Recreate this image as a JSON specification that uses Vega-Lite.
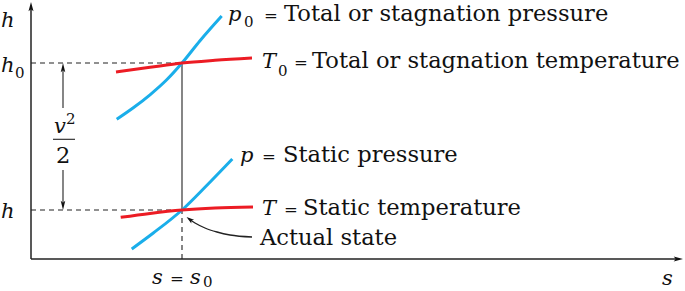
{
  "$schema": "https://vega.github.io/schema/vega-lite/v6.json",
  "width": 685,
  "height": 291,
  "padding": 0,
  "autosize": {"type": "none"},
  "background": "white",
  "config": {"view": {"stroke": null}, "text": {"font": "DejaVu Serif", "color": "#111", "align": "left", "baseline": "alphabetic"}},
  "datasets": {
    "rules": [
      {"s": 0, "h": 0, "s2": 0, "h2": 250, "kind": "axis"},
      {"s": 0, "h": 0, "s2": 646, "h2": 0, "kind": "axis"},
      {"s": 0, "h": 196, "s2": 151, "h2": 196, "kind": "dash"},
      {"s": 0, "h": 49, "s2": 151, "h2": 49, "kind": "dash"},
      {"s": 151, "h": 0, "s2": 151, "h2": 49, "kind": "dash"},
      {"s": 151, "h": 49, "s2": 151, "h2": 196, "kind": "thin"},
      {"s": 32, "h": 151, "s2": 32, "h2": 190, "kind": "thin"},
      {"s": 32, "h": 89, "s2": 32, "h2": 55, "kind": "thin"},
      {"s": 22, "h": 119.7, "s2": 44, "h2": 119.7, "kind": "thin"}
    ],
    "curves": [
      {"curve": "p0", "i": 1, "s": 85.7, "h": 139.7},
      {"curve": "p0", "i": 2, "s": 102.3, "h": 151.2},
      {"curve": "p0", "i": 3, "s": 119, "h": 164.2},
      {"curve": "p0", "i": 4, "s": 135.7, "h": 179.2},
      {"curve": "p0", "i": 5, "s": 151, "h": 196},
      {"curve": "p0", "i": 6, "s": 169, "h": 218.3},
      {"curve": "p0", "i": 7, "s": 190.7, "h": 243},
      {"curve": "p", "i": 1, "s": 100.7, "h": 10},
      {"curve": "p", "i": 2, "s": 122.3, "h": 26},
      {"curve": "p", "i": 3, "s": 151, "h": 49},
      {"curve": "p", "i": 4, "s": 175.7, "h": 73.5},
      {"curve": "p", "i": 5, "s": 201.3, "h": 100},
      {"curve": "T0", "i": 1, "s": 85, "h": 187},
      {"curve": "T0", "i": 2, "s": 119, "h": 191.7},
      {"curve": "T0", "i": 3, "s": 151, "h": 196},
      {"curve": "T0", "i": 4, "s": 184, "h": 198.7},
      {"curve": "T0", "i": 5, "s": 221, "h": 201},
      {"curve": "T", "i": 1, "s": 89.7, "h": 41.7},
      {"curve": "T", "i": 2, "s": 119, "h": 45.6},
      {"curve": "T", "i": 3, "s": 151, "h": 49},
      {"curve": "T", "i": 4, "s": 184, "h": 51},
      {"curve": "T", "i": 5, "s": 222, "h": 52},
      {"curve": "pointer", "i": 1, "s": 158, "h": 40},
      {"curve": "pointer", "i": 2, "s": 164, "h": 36},
      {"curve": "pointer", "i": 3, "s": 174, "h": 31},
      {"curve": "pointer", "i": 4, "s": 186, "h": 27},
      {"curve": "pointer", "i": 5, "s": 199, "h": 24},
      {"curve": "pointer", "i": 6, "s": 221, "h": 22}
    ],
    "arrows": [
      {"dir": "up", "s": 0, "h": 251, "kind": "big"},
      {"dir": "right", "s": 646, "h": 0, "kind": "big"},
      {"dir": "up", "s": 32, "h": 190, "kind": "mid"},
      {"dir": "down", "s": 32, "h": 55, "kind": "mid"},
      {"dir": "upleft", "s": 159.5, "h": 39, "kind": "small"}
    ],
    "labels": [
      {"style": "italic", "text": "h", "s": -30, "h": 232},
      {"style": "italic", "text": "h", "s": -30, "h": 187},
      {"style": "sub", "text": "0", "s": -16, "h": 181},
      {"style": "italic", "text": "h", "s": -30, "h": 41},
      {"style": "italic", "text": "v", "s": 23, "h": 126},
      {"style": "sup", "text": "2", "s": 35, "h": 135},
      {"style": "roman", "text": "2", "s": 25, "h": 96},
      {"style": "italic", "text": "s", "s": 121, "h": -25},
      {"style": "eq", "text": "=", "s": 139, "h": -25},
      {"style": "italic", "text": "s", "s": 159, "h": -25},
      {"style": "sub", "text": "0", "s": 172, "h": -28},
      {"style": "italic", "text": "s", "s": 631, "h": -26},
      {"style": "italic", "text": "p", "s": 197, "h": 238},
      {"style": "sub", "text": "0", "s": 213, "h": 232},
      {"style": "eq", "text": "=", "s": 233, "h": 238},
      {"style": "roman", "text": "Total or stagnation pressure", "s": 253, "h": 238},
      {"style": "italic", "text": "T", "s": 231, "h": 191},
      {"style": "sub", "text": "0", "s": 247, "h": 183},
      {"style": "eq", "text": "=", "s": 263, "h": 191},
      {"style": "roman", "text": "Total or stagnation temperature", "s": 281, "h": 191},
      {"style": "italic", "text": "p", "s": 209, "h": 97},
      {"style": "eq", "text": "=", "s": 231, "h": 97},
      {"style": "roman", "text": "Static pressure", "s": 252, "h": 97},
      {"style": "italic", "text": "T", "s": 231, "h": 44},
      {"style": "eq", "text": "=", "s": 253, "h": 44},
      {"style": "roman", "text": "Static temperature", "s": 272, "h": 44},
      {"style": "roman", "text": "Actual state", "s": 229, "h": 14}
    ]
  },
  "encoding": {
    "x": {"field": "s", "type": "quantitative", "scale": {"domain": [-31, 654], "nice": false, "zero": false}, "axis": null},
    "y": {"field": "h", "type": "quantitative", "scale": {"domain": [-32, 259], "nice": false, "zero": false}, "axis": null}
  },
  "layer": [
    {
      "data": {"name": "rules"},
      "transform": [{"filter": "datum.kind === 'axis'"}],
      "mark": {"type": "rule", "color": "#222", "strokeWidth": 1.5},
      "encoding": {"x2": {"field": "s2"}, "y2": {"field": "h2"}}
    },
    {
      "data": {"name": "rules"},
      "transform": [{"filter": "datum.kind === 'dash'"}],
      "mark": {"type": "rule", "color": "#222", "strokeWidth": 1.1, "strokeDash": [5, 4]},
      "encoding": {"x2": {"field": "s2"}, "y2": {"field": "h2"}}
    },
    {
      "data": {"name": "rules"},
      "transform": [{"filter": "datum.kind === 'thin'"}],
      "mark": {"type": "rule", "color": "#222", "strokeWidth": 1.1},
      "encoding": {"x2": {"field": "s2"}, "y2": {"field": "h2"}}
    },
    {
      "data": {"name": "curves"},
      "transform": [{"filter": "datum.curve === 'pointer'"}],
      "mark": {"type": "line", "color": "#222", "strokeWidth": 1.3, "interpolate": "monotone"},
      "encoding": {"order": {"field": "i", "type": "quantitative"}}
    },
    {
      "data": {"name": "curves"},
      "transform": [{"filter": "datum.curve !== 'pointer'"}],
      "mark": {"type": "line", "strokeWidth": 3, "interpolate": "monotone", "strokeCap": "butt"},
      "encoding": {
        "detail": {"field": "curve", "type": "nominal"},
        "order": {"field": "i", "type": "quantitative"},
        "color": {"field": "curve", "type": "nominal", "scale": {"domain": ["p0", "p", "T0", "T"], "range": ["#1aaeea", "#1aaeea", "#ec1c24", "#ec1c24"]}, "legend": null}
      }
    },
    {
      "data": {"name": "arrows"},
      "transform": [{"filter": "datum.kind === 'big' && datum.dir === 'up'"}],
      "mark": {"type": "point", "filled": true, "color": "#111", "opacity": 1, "size": 144, "shape": "M0,-1L0.42,0.55L0,0.2L-0.42,0.55Z", "angle": 0}
    },
    {
      "data": {"name": "arrows"},
      "transform": [{"filter": "datum.kind === 'big' && datum.dir === 'right'"}],
      "mark": {"type": "point", "filled": true, "color": "#111", "opacity": 1, "size": 144, "shape": "M0,-1L0.42,0.55L0,0.2L-0.42,0.55Z", "angle": 90}
    },
    {
      "data": {"name": "arrows"},
      "transform": [{"filter": "datum.kind === 'mid' && datum.dir === 'up'"}],
      "mark": {"type": "point", "filled": true, "color": "#111", "opacity": 1, "size": 144, "shape": "M0,-1L0.38,0.55L0,0.2L-0.38,0.55Z", "angle": 0}
    },
    {
      "data": {"name": "arrows"},
      "transform": [{"filter": "datum.kind === 'mid' && datum.dir === 'down'"}],
      "mark": {"type": "point", "filled": true, "color": "#111", "opacity": 1, "size": 144, "shape": "M0,-1L0.38,0.55L0,0.2L-0.38,0.55Z", "angle": 180}
    },
    {
      "data": {"name": "arrows"},
      "transform": [{"filter": "datum.dir === 'upleft'"}],
      "mark": {"type": "point", "filled": true, "color": "#111", "opacity": 1, "size": 100, "shape": "M0,-1L0.45,0.55L0,0.2L-0.45,0.55Z", "angle": 307}
    },
    {
      "data": {"name": "labels"},
      "transform": [{"filter": "datum.style === 'italic'"}],
      "mark": {"type": "text", "fontSize": 21, "fontStyle": "italic"},
      "encoding": {"text": {"field": "text"}}
    },
    {
      "data": {"name": "labels"},
      "transform": [{"filter": "datum.style === 'roman'"}],
      "mark": {"type": "text", "fontSize": 22.6},
      "encoding": {"text": {"field": "text"}}
    },
    {
      "data": {"name": "labels"},
      "transform": [{"filter": "datum.style === 'eq'"}],
      "mark": {"type": "text", "fontSize": 16.5},
      "encoding": {"text": {"field": "text"}}
    },
    {
      "data": {"name": "labels"},
      "transform": [{"filter": "datum.style === 'sub' || datum.style === 'sup'"}],
      "mark": {"type": "text", "fontSize": 15},
      "encoding": {"text": {"field": "text"}}
    }
  ]
}
